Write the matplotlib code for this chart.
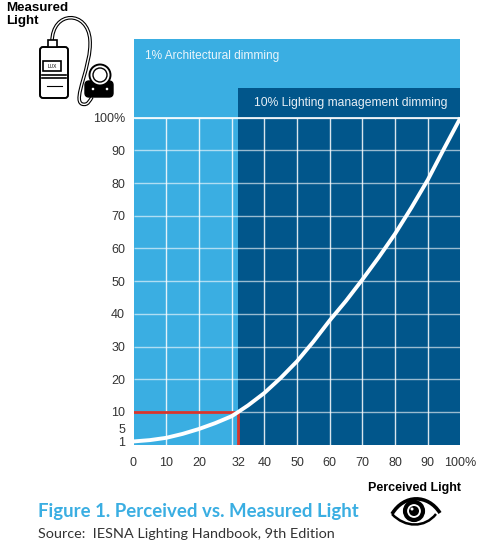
import matplotlib
matplotlib.use("Agg")
import matplotlib.pyplot as plt
from matplotlib.patches import Rectangle, FancyBboxPatch, Circle, PathPatch
from matplotlib.path import Path

# perceived light (%) vs measured light (%)
perceived = [0, 5, 10, 15, 20, 25, 30, 32, 35, 40, 45, 50, 55, 60, 65, 70, 75, 80, 85, 90, 95, 100]
measured = [1, 1.4, 2.1, 3.3, 4.8, 6.6, 8.7, 10, 12, 15.8, 20.4, 25.5, 31.5, 38, 44, 50.5, 57.3, 64.5, 72.5, 81, 90.6, 100]

x_ticks = [0, 10, 20, 32, 40, 50, 60, 70, 80, 90, 100]
x_labels = ["0", "10", "20", "32", "40", "50", "60", "70", "80", "90", "100%"]
y_ticks = [1, 5, 10, 20, 30, 40, 50, 60, 70, 80, 90, 100]
y_labels = ["1", "5", "10", "20", "30", "40", "50", "60", "70", "80", "90", "100%"]
grid_x = [10, 20, 30, 40, 50, 60, 70, 80, 90]
grid_y = [10, 20, 30, 40, 50, 60, 70, 80, 90, 100]

arch_level = 1     # 1% architectural dimming
mgmt_start = 32    # perceived value where 10% measured is reached

LIGHT = "#3aaee2"
DARK = "#01568b"
RED = "#d8352c"
TXT = "#333333"

plt.rcParams["font.family"] = ["Liberation Sans", "DejaVu Sans"]

fig = plt.figure(figsize=(4.88, 5.51), dpi=100)
ax = fig.add_axes([133.5 / 488, 106.3 / 551, 327 / 488, 405.5 / 551])
ax.set_xlim(0, 100)
ax.set_ylim(0, 124)

ax.add_patch(Rectangle((0, 0), 100, 124, facecolor=LIGHT, edgecolor="none", zorder=0))
ax.add_patch(Rectangle((mgmt_start, 0), 100 - mgmt_start, 109, facecolor=DARK, edgecolor="none", zorder=1))

ax.vlines(grid_x, 0, 100, colors="white", linewidth=1.0, alpha=0.85, zorder=2)
ax.hlines(grid_y, 0, 100, colors="white", linewidth=1.0, alpha=0.6, zorder=2)
ax.hlines(100, 0, 100, colors="white", linewidth=1.2, zorder=2)

ax.plot([0, mgmt_start, mgmt_start], [10, 10, 0], color=RED, linewidth=2.0, zorder=3)
ax.plot(perceived, measured, color="white", linewidth=2.8, solid_capstyle="butt", zorder=4)

ax.text(3.5, 119, f"{arch_level}% Architectural dimming", color="#eaf5fb", fontsize=8.6,
        va="center", ha="left", zorder=5)
ax.text(37, 104.5, "10% Lighting management dimming", color="#e6eef5", fontsize=8.7,
        va="center", ha="left", zorder=5)

ax.set_xticks(x_ticks)
ax.set_xticklabels(x_labels)
ax.set_yticks(y_ticks)
ax.set_yticklabels(y_labels)
ax.tick_params(length=0, labelsize=9, labelcolor=TXT)
ax.tick_params(axis="x", pad=9)
ax.tick_params(axis="y", pad=6)
for s in ax.spines.values():
    s.set_visible(False)

# texts below the chart
fig.text(38 / 488, 1 - 511 / 551, "Figure 1. Perceived vs. Measured Light", color=LIGHT,
         fontsize=13.4, fontweight="bold", family=["Lato", "DejaVu Sans"], va="center", ha="left")
fig.text(38 / 488, 1 - 534 / 551, "Source:  IESNA Lighting Handbook, 9th Edition", color=TXT,
         fontsize=10.4, family=["Lato", "DejaVu Sans"], va="center", ha="left")
fig.text(6 / 488, 1 - 2 / 551, "Measured\nLight", color="black", fontsize=9.6, fontweight="bold",
         va="top", ha="left", linespacing=1.15)
fig.text(414 / 488, 1 - 488 / 551, "Perceived Light", color="black", fontsize=9, fontweight="bold",
         va="center", ha="center")

# icons drawn in pixel space
deco = fig.add_axes([0, 0, 1, 1], zorder=10)
deco.set_xlim(0, 488)
deco.set_ylim(551, 0)
deco.axis("off")

# light meter cable
cable = Path([(52, 42), (52, 10), (88, 10), (90, 40), (92, 65), (72, 100), (82, 104), (88, 106), (90, 100), (92, 97)],
             [Path.MOVETO, Path.CURVE4, Path.CURVE4, Path.CURVE4, Path.CURVE4, Path.CURVE4, Path.CURVE4,
              Path.CURVE4, Path.CURVE4, Path.CURVE4])
deco.add_patch(PathPatch(cable, facecolor="none", edgecolor="black", linewidth=2.6))
deco.add_patch(PathPatch(cable, facecolor="none", edgecolor="white", linewidth=1.0))
# meter body
deco.add_patch(FancyBboxPatch((40, 47), 28, 51, boxstyle="round,pad=0,rounding_size=3",
                              facecolor="white", edgecolor="black", linewidth=1.4))
deco.add_patch(Rectangle((48, 40), 9, 7, facecolor="white", edgecolor="black", linewidth=1.2))
deco.add_patch(Rectangle((43, 61), 18, 10, facecolor="white", edgecolor="black", linewidth=1.2))
deco.text(52, 66, "LUX", fontsize=3.5, ha="center", va="center", color="black")
deco.plot([42, 66], [75, 75], color="black", linewidth=1.2)
deco.plot([42, 66], [78, 78], color="black", linewidth=1.2)
deco.plot([47, 62], [86, 86], color="black", linewidth=0.8)
# sensor head
deco.add_patch(FancyBboxPatch((85, 81), 28, 16, boxstyle="round,pad=0,rounding_size=4",
                              facecolor="black", edgecolor="black", linewidth=1))
deco.add_patch(Circle((100, 75), 10.5, facecolor="white", edgecolor="black", linewidth=1.4))
deco.add_patch(Circle((100, 75), 7, facecolor="white", edgecolor="black", linewidth=1.0))
deco.add_patch(Circle((93, 89), 1.3, facecolor="white", edgecolor="none"))
deco.add_patch(Circle((107, 89), 1.3, facecolor="white", edgecolor="none"))

# eye
lid = Path([(392, 514), (404, 494), (428, 494), (440, 513)],
           [Path.MOVETO, Path.CURVE4, Path.CURVE4, Path.CURVE4])
deco.add_patch(PathPatch(lid, facecolor="none", edgecolor="black", linewidth=2.6))
low = Path([(392, 514), (405, 528), (425, 528), (436, 514)],
           [Path.MOVETO, Path.CURVE4, Path.CURVE4, Path.CURVE4])
deco.add_patch(PathPatch(low, facecolor="none", edgecolor="black", linewidth=1.8))
deco.add_patch(Circle((414, 511), 9, facecolor="white", edgecolor="black", linewidth=3))
deco.add_patch(Circle((414, 511), 5, facecolor="black", edgecolor="none"))
deco.add_patch(Circle((412, 509), 1.5, facecolor="white", edgecolor="none"))

fig.savefig("out.png", dpi=100)
